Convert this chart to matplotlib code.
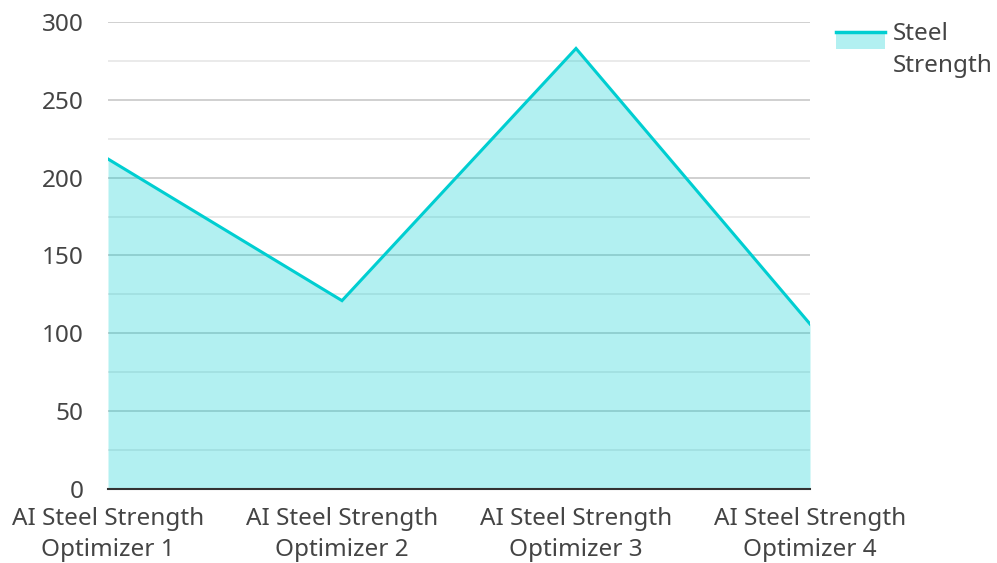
import matplotlib
matplotlib.use("Agg")
import matplotlib.pyplot as plt
from matplotlib.patches import Rectangle
from matplotlib.lines import Line2D
from matplotlib.ticker import MultipleLocator

# Data
categories = ["AI Steel Strength\nOptimizer 1", "AI Steel Strength\nOptimizer 2",
              "AI Steel Strength\nOptimizer 3", "AI Steel Strength\nOptimizer 4"]
steel_strength = [212, 121, 283, 106]
series_name = "Steel\nStrength"

LINE_COLOR = "#00CED1"
TEXT_COLOR = "#444444"
FONT_SIZE = 17.5

plt.rcParams["font.family"] = ["Noto Sans", "DejaVu Sans"]


class AreaHandler:
    """Legend handle: line on top, light fill below."""
    def legend_artist(self, legend, orig_handle, fontsize, handlebox):
        x0, y0 = handlebox.xdescent, handlebox.ydescent
        w, h = handlebox.width, handlebox.height
        top = y0 + h * 1.6
        bottom = y0 + h * 0.6
        rect = Rectangle((x0, bottom), w, top - bottom,
                         facecolor=LINE_COLOR, alpha=0.3, edgecolor="none",
                         transform=handlebox.get_transform())
        line = Line2D([x0, x0 + w], [top, top], color=LINE_COLOR, lw=2.5,
                      transform=handlebox.get_transform())
        handlebox.add_artist(rect)
        handlebox.add_artist(line)
        return line


fig = plt.figure(figsize=(9.97, 5.63), dpi=100)
ax = fig.add_axes([108 / 997, 1 - 489 / 563, (810 - 108) / 997, (489 - 22) / 563])

x = list(range(len(categories)))
ax.fill_between(x, steel_strength, 0, color=LINE_COLOR, alpha=0.3, lw=0, zorder=2)
line, = ax.plot(x, steel_strength, color=LINE_COLOR, lw=2.2, zorder=3,
                solid_joinstyle="miter")

ax.set_xlim(0, len(categories) - 1)
ax.set_ylim(0, 300)
ax.yaxis.set_major_locator(MultipleLocator(50))
ax.yaxis.set_minor_locator(MultipleLocator(25))
ax.set_axisbelow(True)
ax.grid(True, which="major", axis="y", color="#c8c8c8", lw=1.2, zorder=1)
ax.grid(True, which="minor", axis="y", color="#e6e6e6", lw=1.2, zorder=1)

ax.set_xticks(x)
ax.set_xticklabels(categories, linespacing=1.38)
for s in ["top", "right", "left"]:
    ax.spines[s].set_visible(False)
ax.spines["bottom"].set_color("#333333")
ax.spines["bottom"].set_linewidth(1.5)
ax.spines["bottom"].set_zorder(4)
ax.tick_params(axis="both", which="both", length=0, labelsize=FONT_SIZE, colors=TEXT_COLOR)
ax.tick_params(axis="y", pad=17.5)
ax.tick_params(axis="x", pad=13)

leg = ax.legend([line], [series_name], handler_map={line: AreaHandler()},
                loc="upper left", bbox_to_anchor=(1.006, 1.046), frameon=False,
                fontsize=FONT_SIZE, labelcolor=TEXT_COLOR, handlelength=2.0,
                handletextpad=0.33)
for t in leg.get_texts():
    t.set_linespacing(1.45)

fig.savefig("out.png", dpi=100)
